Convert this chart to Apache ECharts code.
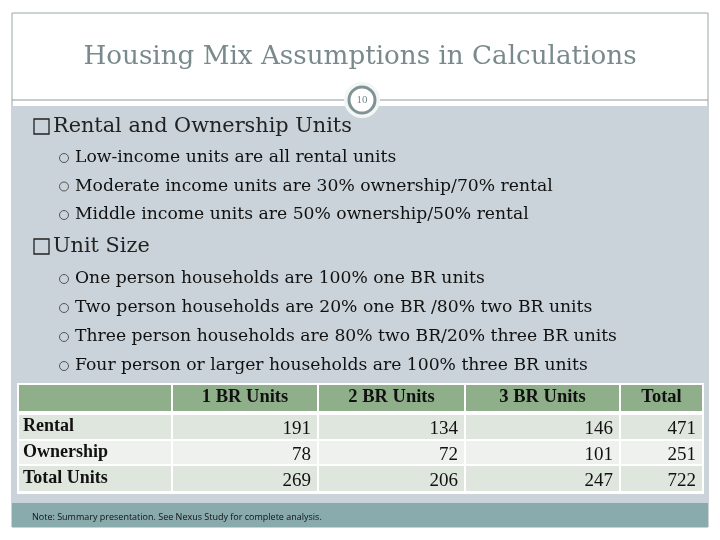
<!DOCTYPE html>
<html><head><meta charset="utf-8">
<script src="https://cdn.jsdelivr.net/npm/echarts@6/dist/echarts.min.js"></script>
<style>html,body{margin:0;padding:0;background:#fff}#c{width:720px;height:540px}</style>
</head><body><div id="c"></div>
<script>
const title = "Housing Mix Assumptions in Calculations";
const slideNum = "10";
const heading1 = "Rental and Ownership Units";
const bullets1 = ["Low-income units are all rental units","Moderate income units are 30% ownership/70% rental","Middle income units are 50% ownership/50% rental"];
const heading2 = "Unit Size";
const bullets2 = ["One person households are 100% one BR units","Two person households are 20% one BR /80% two BR units","Three person households are 80% two BR/20% three BR units","Four person or larger households are 100% three BR units"];
const columns = ["1 BR Units","2 BR Units","3 BR Units","Total"];
const rowNames = ["Rental","Ownership","Total Units"];
const rental = [191,134,146,471];
const ownership = [78,72,101,251];
const totals = [269,206,247,722];
const note = "Note: Summary presentation. See Nexus Study for complete analysis.";

const rows = [rental, ownership, totals];
const colX = [18,172,318,465,620,703];
const rowY = [[415,440],[441,465],[466,492]];
const rowFill = ['#dfe6de','#eef1ee','#dfe6de'];
const serif = '"Liberation Serif",serif';
const dserif = '"DejaVu Serif",serif';
const g = [];
g.push({type:'rect',shape:{x:12,y:13,width:696,height:514},style:{fill:'#fff',stroke:'#9aa6a8',lineWidth:1}});
g.push({type:'rect',shape:{x:12,y:106,width:696,height:397},style:{fill:'#c9d3d9'}});
g.push({type:'rect',shape:{x:12,y:503,width:696,height:24},style:{fill:'#8aabad'}});
g.push({type:'line',shape:{x1:12,y1:100,x2:708,y2:100},style:{stroke:'#8e9a9c',lineWidth:1}});
g.push({type:'text',x:360,y:57,style:{text:title,font:'26.2px '+dserif,fill:'#7a8a8c',align:'center',verticalAlign:'middle'}});
g.push({type:'circle',shape:{cx:362,cy:100,r:16},style:{fill:'#fff',stroke:'#f4f6f6',lineWidth:4}});
g.push({type:'circle',shape:{cx:362,cy:100,r:13},style:{fill:'#fff',stroke:'#7f9394',lineWidth:3}});
g.push({type:'text',x:362,y:100,style:{text:slideNum,font:'11px '+serif,fill:'#7a8a8c',align:'center',verticalAlign:'middle'}});
function head(t,y){
  g.push({type:'rect',shape:{x:34,y:y-8,width:15,height:15},style:{fill:'none',stroke:'#222',lineWidth:1.3}});
  g.push({type:'text',x:53,y:y,style:{text:t,font:'20.8px '+dserif,fill:'#222',verticalAlign:'middle'}});
}
function bul(t,y){
  g.push({type:'circle',shape:{cx:64,cy:y,r:4.5},style:{fill:'none',stroke:'#555',lineWidth:1}});
  g.push({type:'text',x:75,y:y,style:{text:t,font:'17.2px '+dserif,fill:'#111',verticalAlign:'middle'}});
}
head(heading1,127);
bullets1.forEach((b,i)=>bul(b,158+i*28.5));
head(heading2,247);
bullets2.forEach((b,i)=>bul(b,279+i*29));
// table
g.push({type:'rect',shape:{x:17,y:383,width:687,height:111},style:{fill:'#fff'}});
for(let c=0;c<5;c++){
  g.push({type:'rect',shape:{x:colX[c]+1,y:385,width:colX[c+1]-colX[c]-2,height:26},style:{fill:'#8faf8a'}});
  if(c>0) g.push({type:'text',x:(colX[c]+colX[c+1])/2,y:397,style:{text:columns[c-1],font:'bold 18.5px '+serif,fill:'#111',align:'center',verticalAlign:'middle'}});
}
rows.forEach((r,ri)=>{
  const [y0,y1]=rowY[ri];
  for(let c=0;c<5;c++){
    g.push({type:'rect',shape:{x:colX[c]+1,y:y0,width:colX[c+1]-colX[c]-2,height:y1-y0-1},style:{fill:rowFill[ri]}});
  }
  g.push({type:'text',x:23,y:(y0+y1)/2-1,style:{text:rowNames[ri],font:'bold 18px '+serif,fill:'#111',verticalAlign:'middle'}});
  r.forEach((v,c)=>g.push({type:'text',x:colX[c+2]-7,y:(y0+y1)/2+2,style:{text:String(v),font:'19px '+serif,fill:'#111',align:'right',verticalAlign:'middle'}}));
});
g.push({type:'text',x:32,y:517,style:{text:note,font:'9px "Open Sans",sans-serif',fill:'#111',verticalAlign:'middle'}});
const chart = echarts.init(document.getElementById('c'));
chart.setOption({animation:false,graphic:{elements:g}});
</script></body></html>
